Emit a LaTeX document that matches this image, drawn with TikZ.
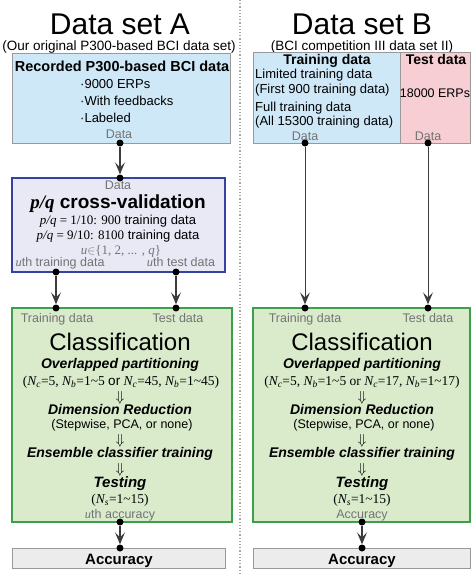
\documentclass[tikz,border=0pt]{standalone}
\usepackage{fontspec}
\setmainfont{Liberation Sans}
\newfontfamily\tms{Liberation Serif}
\usepackage{xcolor}
\usetikzlibrary{arrows.meta}
\definecolor{skyb}{RGB}{206, 232, 248}
\definecolor{pnk}{RGB}{247, 206, 211}
\definecolor{lav}{RGB}{232, 233, 245}
\definecolor{cvb}{RGB}{52, 66, 160}
\definecolor{grf}{RGB}{218, 235, 204}
\definecolor{grb}{RGB}{60, 160, 75}
\definecolor{acf}{RGB}{236, 236, 236}
\definecolor{gtx}{RGB}{115, 115, 115}
\definecolor{ln}{RGB}{60, 60, 60}
\newcommand{\sz}[1]{\fontsize{#1}{#1}\selectfont}
\newcommand{\Nsub}[1]{{\tms\itshape N\textsubscript{#1}}}
\newcommand{\pq}{{\tms\itshape p/q}}
\tikzset{
    panel/.style={draw, inner sep=0pt, outer sep=0pt, line width=1pt},
    txt/.style={inner sep=0pt, anchor=base},
    dot/.style={circle, fill=black, inner sep=0pt, minimum size=7pt},
    link/.style={draw=ln, line width=1.2pt, -{Stealth[length=12pt, width=10pt, inset=5pt]}},
    step head/.style={txt, font=\sz{14}\bfseries\itshape},
    dn/.style={txt, font=\sz{14}},
}

\begin{document}
\begin{tikzpicture}[x=1pt, y=-1pt]
        \useasboundingbox (0,0) rectangle (474,576);
        \draw[gray!70, dotted, line width=1.2pt] (240,0) -- (240,576);

        % Data set A
        \node[txt, font=\sz{30}] (titA) at (120,34) {Data set A};
        \node[txt, font=\sz{13.5}] (subA) at (119,50) {(Our original P300-based BCI data set)};
        \node[panel, draw=gray!80, fill=skyb, minimum width=218pt, minimum height=90pt] (recA) at (121,98) {};
        \node[txt, font=\sz{14.5}\bfseries] (recT) at (122,71) {Recorded P300-based BCI data};
        \node[txt, anchor=base west, font=\sz{13}] (bl1) at (80,88) {·9000 ERPs};
        \node[txt, anchor=base west, font=\sz{13}] (bl2) at (80,105) {·With feedbacks};
        \node[txt, anchor=base west, font=\sz{13}] (bl3) at (80,122) {·Labeled};
        \node[txt, font=\sz{12.5}, gtx] (recD) at (119,138) {Data};
        \node[dot] (d1) at (120,143) {};

        \node[panel, draw=cvb, line width=2pt, fill=lav, minimum width=213pt, minimum height=94pt] (cvA) at (118.5,225) {};
        \node[dot] (d2) at (120,178) {};
        \node[txt, font=\sz{12.5}, gtx] (cvD) at (118,189) {Data};
        \node[txt, font=\sz{19}\bfseries] (cvT) at (118,208) {{\tms\itshape p/q} cross-validation};
        \node[txt, font=\sz{13}] (cv1) at (118,224) {\pq{\tms\ = 1/10: 900} training data};
        \node[txt, font=\sz{13}] (cv2) at (118,239) {\pq{\tms\ = 9/10: 8100} training data};
        \node[txt, font=\sz{13}\tms, gtx] (cv3) at (121,254) {{\itshape u}$\in$\{1, 2, ... , {\itshape q}\}};
        \node[txt, font=\sz{12.5}, gtx] (cvTr) at (60,266) {{\tms\itshape u}th training data};
        \node[txt, font=\sz{12.5}, gtx] (cvTe) at (181,266) {{\tms\itshape u}th test data};
        \node[dot] (d3) at (56,272) {};
        \node[dot] (d4) at (176,272) {};

        \node[panel, draw=grb, line width=2pt, fill=grf, minimum width=220pt, minimum height=214pt] (clsA) at (122,415) {};
        \node[dot] (d5) at (56,308) {};
        \node[dot] (d6) at (176,308) {};
        \node[txt, font=\sz{12.5}, gtx] (inTrA) at (57,322) {Training data};
        \node[txt, font=\sz{12.5}, gtx] (inTeA) at (178,322) {Test data};
        \node[txt, font=\sz{24}] (clsTA) at (120,350) {Classification};
        \node[step head] (ovA) at (120,368) {Overlapped partitioning};
        \node[txt, font=\sz{13.5}\tms] (ovpA) at (121,385) {(\Nsub{c}=5, \Nsub{b}=1\textasciitilde5 {\rmfamily or} \Nsub{c}=45, \Nsub{b}=1\textasciitilde45)};
        \node[dn] (ar1A) at (120,401) {$\Downarrow$};
        \node[step head] (dimA) at (120,414) {Dimension Reduction};
        \node[txt, font=\sz{12.5}] (dimpA) at (122,428) {(Stepwise, PCA, or none)};
        \node[dn] (ar2A) at (120,444) {$\Downarrow$};
        \node[step head] (ensA) at (120,457) {Ensemble classifier training};
        \node[dn] (ar3A) at (120,473) {$\Downarrow$};
        \node[step head, font=\sz{15}\bfseries\itshape] (tstA) at (120,487) {Testing};
        \node[txt, font=\sz{13.5}\tms] (nsA) at (120,503) {(\Nsub{s}=1\textasciitilde15)};
        \node[txt, font=\sz{12.5}, gtx] (accuA) at (120,518) {{\tms\itshape u}th accuracy};
        \node[dot] (d7) at (120,522) {};

        \node[panel, draw=gray!80, fill=acf, minimum width=213pt, minimum height=20pt] (accA) at (118.5,558) {};
        \node[dot] (d8) at (120,548) {};
        \node[txt, font=\sz{15}\bfseries] (accTA) at (119,564) {Accuracy};

        % Data set B
        \node[txt, font=\sz{30}] (titB) at (362,34) {Data set B};
        \node[txt, font=\sz{13.5}] (subB) at (362,50) {(BCI competition III data set II)};
        \node[panel, draw=gray!80, fill=skyb, minimum width=147pt, minimum height=91pt] (trB) at (326.5,97.5) {};
        \node[panel, draw=gray!80, fill=pnk, minimum width=70pt, minimum height=91pt] (teB) at (435,97.5) {};
        \node[txt, font=\sz{14}\bfseries] (trT) at (327,64) {Training data};
        \node[txt, anchor=base west, font=\sz{13}] (lim1) at (255,78) {Limited training data};
        \node[txt, anchor=base west, font=\sz{13}] (lim2) at (255,93) {(First 900 training data)};
        \node[txt, anchor=base west, font=\sz{13}] (ful1) at (255,111) {Full training data};
        \node[txt, anchor=base west, font=\sz{13}] (ful2) at (255,125) {(All 15300 training data)};
        \node[txt, font=\sz{12.5}, gtx] (trD) at (305,140) {Data};
        \node[txt, font=\sz{14}\bfseries] (teT) at (436,64) {Test data};
        \node[txt, font=\sz{12.5}] (teN) at (435,97) {18000 ERPs};
        \node[txt, font=\sz{12.5}, gtx] (teD) at (428,140) {Data};
        \node[dot] (d9) at (305,143) {};
        \node[dot] (d10) at (428,143) {};

        \node[panel, draw=grb, line width=2pt, fill=grf, minimum width=217pt, minimum height=214pt] (clsB) at (361.5,415) {};
        \node[dot] (d11) at (305,308) {};
        \node[dot] (d12) at (428,308) {};
        \node[txt, font=\sz{12.5}, gtx] (inTrB) at (305,322) {Training data};
        \node[txt, font=\sz{12.5}, gtx] (inTeB) at (428,322) {Test data};
        \node[txt, font=\sz{24}] (clsTB) at (362,350) {Classification};
        \node[step head] (ovB) at (362,368) {Overlapped partitioning};
        \node[txt, font=\sz{13.5}\tms] (ovpB) at (362,385) {(\Nsub{c}=5, \Nsub{b}=1\textasciitilde5 or \Nsub{c}=17, \Nsub{b}=1\textasciitilde17)};
        \node[dn] (ar1B) at (362,401) {$\Downarrow$};
        \node[step head] (dimB) at (362,414) {Dimension Reduction};
        \node[txt, font=\sz{12.5}] (dimpB) at (364,428) {(Stepwise, PCA, or none)};
        \node[dn] (ar2B) at (362,444) {$\Downarrow$};
        \node[step head] (ensB) at (362,457) {Ensemble classifier training};
        \node[dn] (ar3B) at (362,473) {$\Downarrow$};
        \node[step head, font=\sz{15}\bfseries\itshape] (tstB) at (362,487) {Testing};
        \node[txt, font=\sz{13.5}\tms] (nsB) at (362,503) {(\Nsub{s}=1\textasciitilde15)};
        \node[txt, font=\sz{12.5}, gtx] (accuB) at (362,518) {Accuracy};
        \node[dot] (d13) at (362,522) {};

        \node[panel, draw=gray!80, fill=acf, minimum width=217pt, minimum height=20pt] (accB) at (361.5,558) {};
        \node[dot] (d14) at (362,548) {};
        \node[txt, font=\sz{15}\bfseries] (accTB) at (362,564) {Accuracy};

        % connectors
        \draw[link] (d1) -- (d2);
        \draw[link] (d3) -- (d5);
        \draw[link] (d4) -- (d6);
        \draw[link] (d7) -- (d8);
        \draw[link, line width=0.8pt] (d9) -- (d11);
        \draw[link, line width=0.8pt] (d10) -- (d12);
        \draw[link] (d13) -- (d14);
    \end{tikzpicture}
\end{document}
